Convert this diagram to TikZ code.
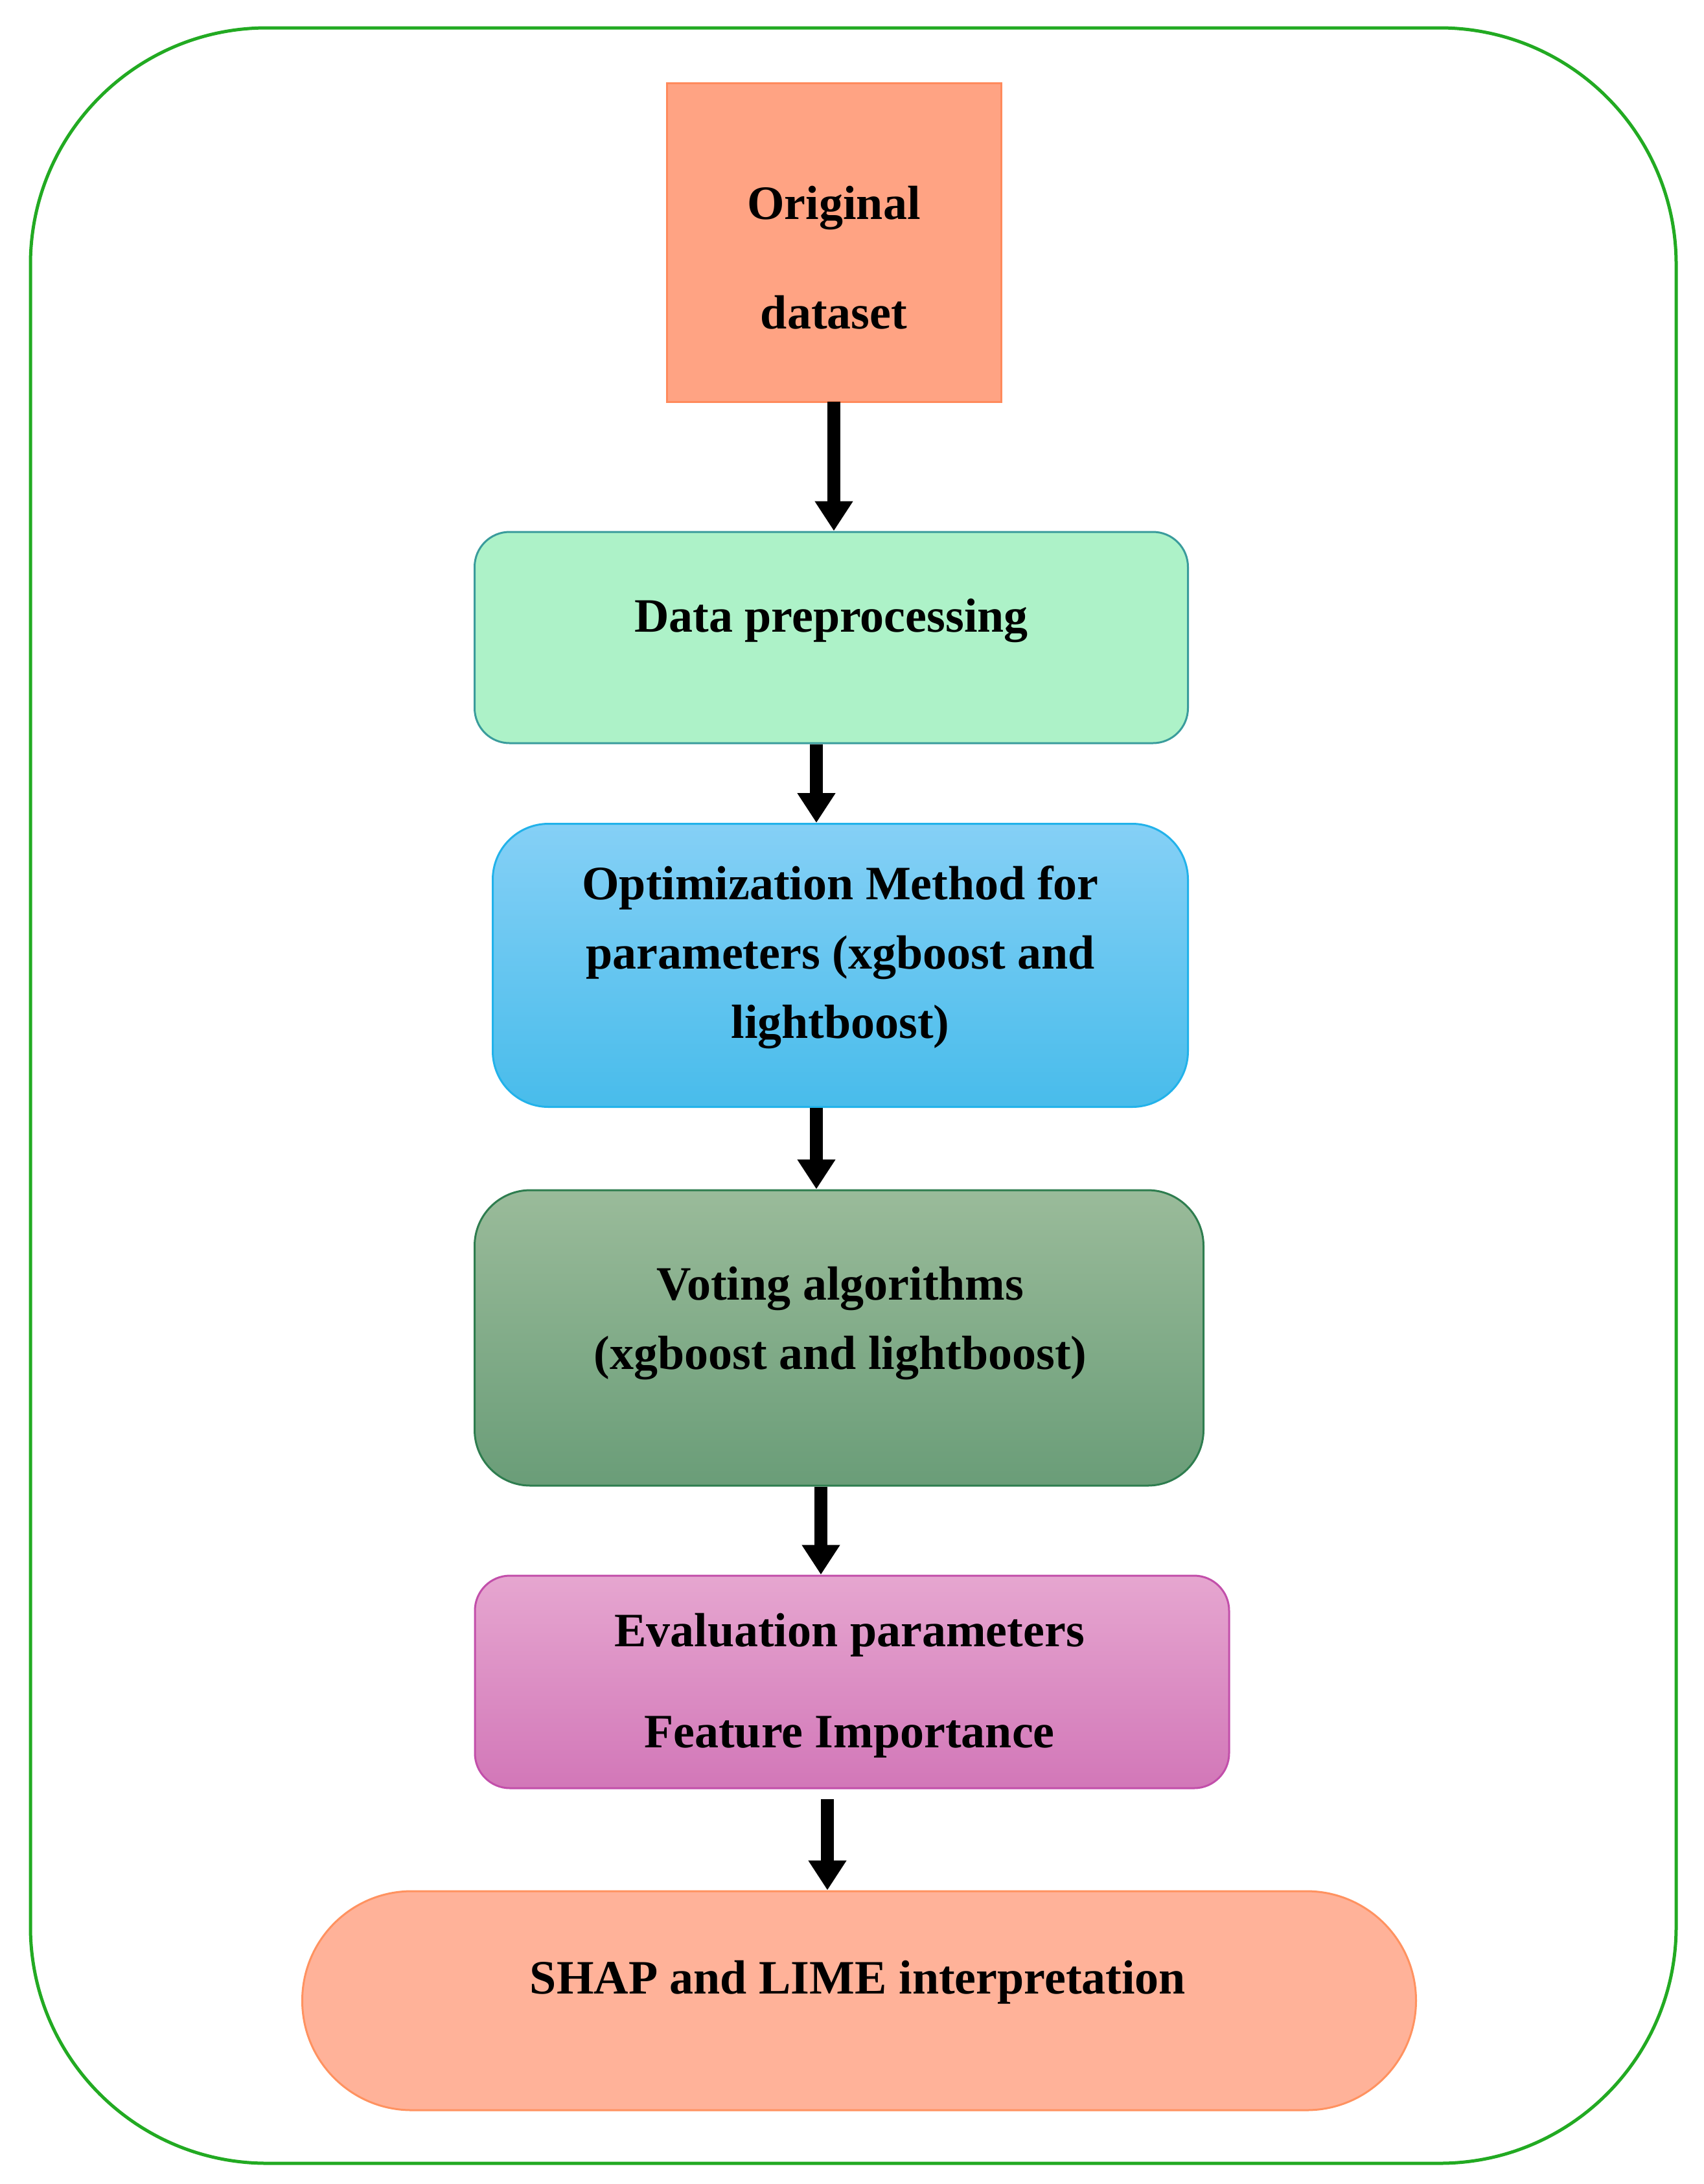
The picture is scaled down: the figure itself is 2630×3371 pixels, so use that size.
\documentclass[tikz,border=0pt]{standalone}
\usepackage{fontspec}
\setmainfont{Liberation Serif}
\usetikzlibrary{shapes.geometric,arrows.meta}
\definecolor{cylA}{HTML}{FFD2C6}\definecolor{cylB}{HTML}{FFA383}\definecolor{cylL}{HTML}{FF8A5C}
\definecolor{dpF}{HTML}{ADF2C8}\definecolor{dpL}{HTML}{3A9C9C}
\definecolor{opA}{HTML}{85D0F6}\definecolor{opB}{HTML}{48BCEB}\definecolor{opL}{HTML}{22B2EA}
\definecolor{voA}{HTML}{9ABB9A}\definecolor{voB}{HTML}{6A9D78}\definecolor{voL}{HTML}{2E7D4F}
\definecolor{evA}{HTML}{E6A6D0}\definecolor{evB}{HTML}{D277B8}\definecolor{evL}{HTML}{C24FAA}
\definecolor{shF}{HTML}{FFB299}\definecolor{shL}{HTML}{FF9260}
\definecolor{outG}{HTML}{22AA22}
\begin{document}
\begin{tikzpicture}[x=1pt,y=-1pt,
  box/.style={rectangle,line width=3pt,inner sep=0pt},
  txt/.style={font=\fontsize{74}{107}\selectfont\bfseries,inner sep=0pt,align=center},
  arr/.style={line width=20pt,-{Triangle[width=56pt,length=46pt]},black}]
\useasboundingbox (0,0) rectangle (2630,3371);
\draw[outG,line width=5pt,rounded corners=365pt] (47,43) rectangle (2587,3339);
\node[cylinder,shape border rotate=90,aspect=0.25,minimum height=492pt,minimum width=516pt,
  cylinder uses custom fill,cylinder body fill=cylB,cylinder end fill=cylA,draw=cylL,line width=3pt,inner sep=0pt] (cyl) at (1287,375) {};
\node[txt] (t0) at (1287,321) {Original};
\node[txt] (t0b) at (1287,482) {dataset};
\node[box,draw=dpL,fill=dpF,rounded corners=54pt,minimum width=1101pt,minimum height=326pt] (dp) at (1283,984) {};
\node[txt] (t1) at (1283,958) {Data preprocessing};
\node[box,draw=opL,top color=opA,bottom color=opB,rounded corners=86pt,minimum width=1073pt,minimum height=437pt] (op) at (1297,1490) {};
\node[txt] (t2) at (1297,1478) {Optimization Method for\\parameters (xgboost and\\lightboost)};
\node[box,draw=voL,top color=voA,bottom color=voB,rounded corners=86pt,minimum width=1125pt,minimum height=456pt] (vo) at (1295,2065) {};
\node[txt] (t3) at (1297,2042) {Voting algorithms\\(xgboost and lightboost)};
\node[box,draw=evL,top color=evA,bottom color=evB,rounded corners=54pt,minimum width=1164pt,minimum height=328pt] (ev) at (1315,2596) {};
\node[txt] (t4) at (1311,2524) {Evaluation parameters};
\node[txt] (t4b) at (1311,2681) {Feature Importance};
\node[box,draw=shL,fill=shF,rounded corners=169pt,minimum width=1719pt,minimum height=338pt] (sh) at (1326,3088) {};
\node[txt] (t5) at (1324,3060) {SHAP and LIME interpretation};
\draw[arr] (cyl.bottom) ++(0,-2) coordinate (c1) -- (dp.north -| c1);
\draw[arr] ([xshift=-23pt]dp.south) -- ([xshift=-37pt]op.north);
\draw[arr] ([xshift=-37pt]op.south) -- ([xshift=-35pt]vo.north);
\draw[arr] ([xshift=-28pt]vo.south) -- ([xshift=-48pt]ev.north);
\draw[arr] ([xshift=-38pt,yshift=-15pt]ev.south) -- ([xshift=-49pt]sh.north);
\end{tikzpicture}
\end{document}
